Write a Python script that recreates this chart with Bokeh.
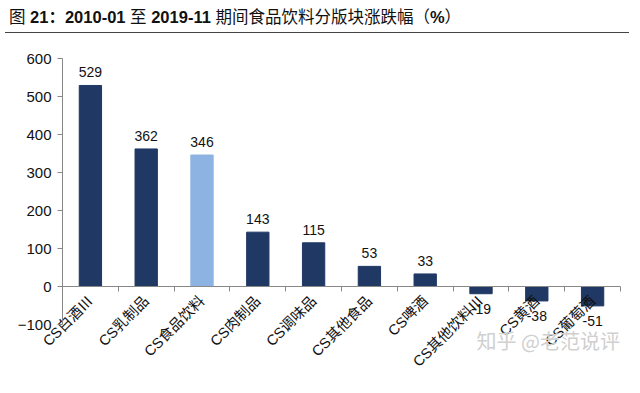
import math
from bokeh.plotting import figure
from bokeh.models import Div, FixedTicker, ColumnDataSource, Label, Range1d
from bokeh.layouts import column
from bokeh.core.properties import value
from bokeh.embed import file_html
from bokeh.resources import INLINE

categories = ["CS白酒Ⅲ", "CS乳制品", "CS食品饮料", "CS肉制品", "CS调味品",
              "CS其他食品", "CS啤酒", "CS其他饮料Ⅲ", "CS黄酒", "CS葡萄酒"]
values = [529, 362, 346, 143, 115, 53, 33, -19, -38, -51]
highlight = "CS食品饮料"
y_ticks = [-100, 0, 100, 200, 300, 400, 500, 600]
title_text = "图 <b>21：2010-01</b> 至 <b>2019-11</b> 期间食品饮料分版块涨跌幅（<b>%</b>）"
watermark = "知乎 @老范说评"

NAVY = "#1F3864"
LIGHT = "#8DB3E2"

n = len(categories)
xs = [i + 0.5 for i in range(n)]
colors = [LIGHT if c == highlight else NAVY for c in categories]
pos_lab = [str(v) if v >= 0 else "" for v in values]
neg_lab = [str(v) if v < 0 else "" for v in values]

src = ColumnDataSource(dict(x=xs, top=values, color=colors, pos=pos_lab, neg=neg_lab))

FONT = "Liberation Sans, Noto Sans CJK SC"

title = Div(text='<span style="display:inline-block;width:4px"></span>' + title_text,
            width=624, height=28,
            styles={"font-family": "Liberation Sans, Noto Sans CJK SC",
                    "font-size": "16.5px", "color": "#111",
                    "border-bottom": "1.5px solid #444",
                    "white-space": "nowrap",
                    "box-sizing": "border-box", "line-height": "24px"})

# geometry: category axis from 62px to 620px of a 624px-wide figure
W, H = 624, 347
left_px, right_px = 62, 620
unit = (right_px - left_px) / n
top_px, zero_low_px = 20, 286  # 600 at 20px, -100 at 286px
yunit = (zero_low_px - top_px) / 700
x0 = -left_px / unit
x1 = n + (W - right_px) / unit
y0 = -100 - (H - zero_low_px) / yunit
y1 = 600 + top_px / yunit

p = figure(width=W, height=H, output_backend="svg", toolbar_location=None,
           x_range=Range1d(x0, x1), y_range=Range1d(y0, y1),
           min_border=0)
p.outline_line_color = None
p.grid.grid_line_color = None

p.vbar(x="x", top="top", bottom=0, width=0.4, color="color", source=src)

p.text(x="x", y="top", text="pos", source=src, text_align="center", text_baseline="bottom",
       y_offset=-8, text_font_size="14px", text_font=value("Liberation Sans"), text_color="#111")
p.text(x="x", y="top", text="neg", source=src, text_align="center", text_baseline="top",
       y_offset=10, text_font_size="14px", text_font=value("Liberation Sans"), text_color="#111")

# y axis at x=0
ya = p.yaxis[0]
ya.fixed_location = 0
ya.ticker = FixedTicker(ticks=y_ticks)
ya.bounds = (-100, 600)
ya.axis_line_color = "#888"
ya.major_tick_line_color = "#888"
ya.major_tick_out = 5
ya.major_tick_in = 0
ya.minor_tick_line_color = None
ya.major_label_text_font = "Liberation Sans"
ya.major_label_text_font_size = "15px"
ya.major_label_text_color = "#111"
ya.major_label_standoff = 6

# x axis at y=0
xa = p.xaxis[0]
xa.fixed_location = 0
xa.bounds = (0, n)
xa.ticker = FixedTicker(ticks=xs, minor_ticks=list(range(n + 1)))
xa.major_label_overrides = {x: c for x, c in zip(xs, categories)}
xa.major_label_orientation = math.pi / 4
xa.axis_line_color = "#888"
xa.major_tick_line_color = None
xa.minor_tick_line_color = "#888"
xa.minor_tick_out = 5
xa.minor_tick_in = 0
xa.major_label_text_font = FONT
xa.major_label_text_font_size = "14.5px"
xa.major_label_text_color = "#111"
xa.major_label_standoff = 6

p.add_layout(Label(x=(476 - left_px) / unit, y=-142, text=watermark, text_align="left",
                   text_baseline="middle", text_font_size="20px", text_color="#D0D0D0",
                   text_font="Noto Sans CJK SC"))

layout = column(title, p, spacing=0)
open("out.html", "w").write(file_html(layout, INLINE))
